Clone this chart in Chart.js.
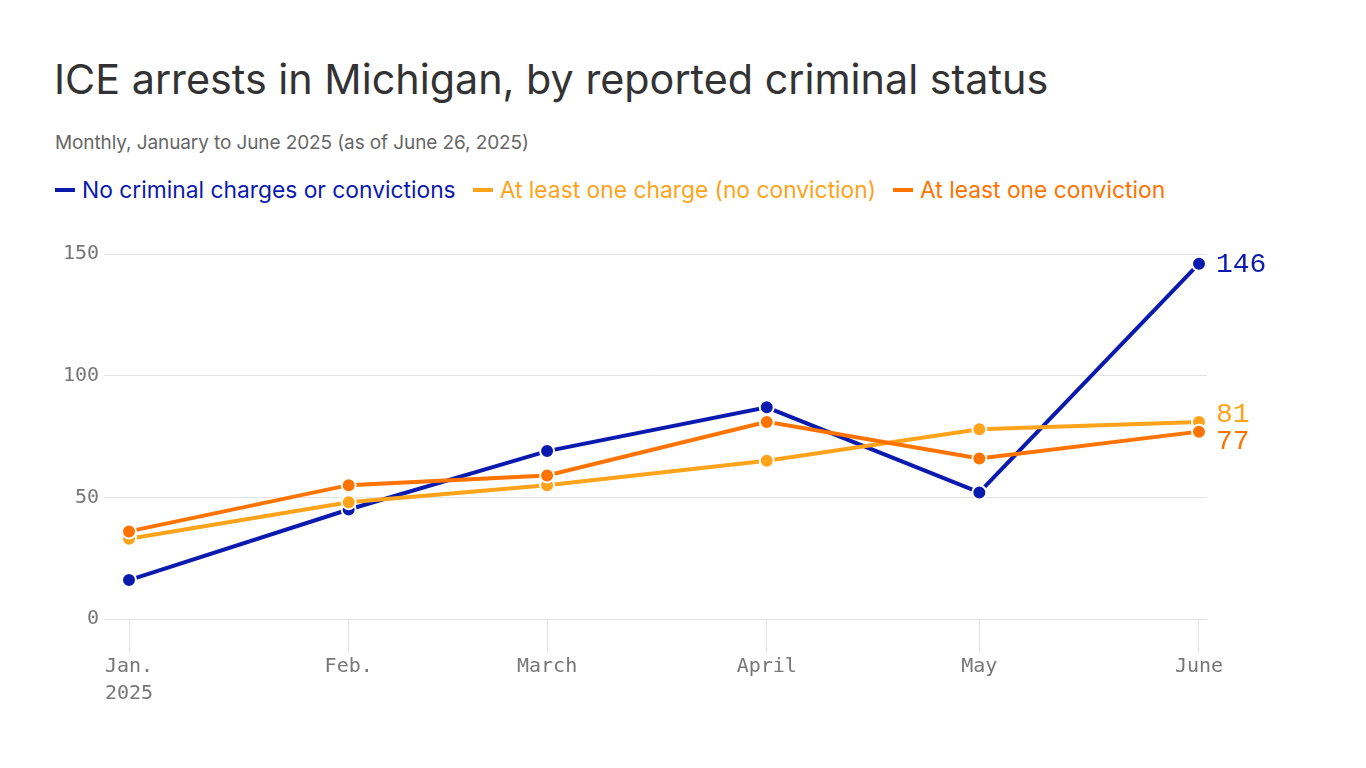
<!DOCTYPE html>
<html><head><meta charset="utf-8">
<script src="https://cdn.jsdelivr.net/npm/chart.js@4/dist/chart.umd.min.js"></script>
<style>
html,body{margin:0;padding:0;background:#fff;width:1366px;height:768px;overflow:hidden;}
#wrap{position:relative;width:1366px;height:768px;}
canvas{position:absolute;left:0;top:0;}
.title{position:absolute;left:54px;top:54px;font-family:Inter,"Noto Sans",sans-serif;font-size:41.3px;color:#333;letter-spacing:0;white-space:nowrap;}
.sub{position:absolute;left:55px;top:131px;font-family:Inter,"Noto Sans",sans-serif;font-size:19px;color:#666;letter-spacing:-0.1px;white-space:nowrap;}
.legend{position:absolute;left:55px;top:176px;font-family:Inter,"Noto Sans",sans-serif;font-size:22.8px;white-space:nowrap;display:flex;gap:17px;letter-spacing:0;}
.legend span{display:inline-flex;align-items:center;}
.legend i{display:inline-block;width:20px;height:4px;margin-right:7px;}
</style></head><body>
<div id="wrap">
<div class="title">ICE arrests in Michigan, by reported criminal status</div>
<div class="sub">Monthly, January to June 2025 (as of June 26, 2025)</div>
<div class="legend" id="legend"></div>
<canvas id="c" width="1366" height="768"></canvas>
</div>
<script>
// Day offsets from Jan 1, 2025 for the first of each month
const monthDays = [0, 31, 59, 90, 120, 151];
const monthLabels = [["Jan.", "2025"], "Feb.", "March", "April", "May", "June"];
const seriesNames = ["No criminal charges or convictions", "At least one charge (no conviction)", "At least one conviction"];
const noCriminal = [16, 45, 69, 87, 52, 146];
const chargeOnly = [33, 48, 55, 65, 78, 81];
const conviction = [36, 55, 59, 81, 66, 77];
const yTicks = [0, 50, 100, 150];
const colors = ["#0b1aae", "#ffa31a", "#ff7300"];

const seriesValues = [noCriminal, chargeOnly, conviction];
const legend = document.getElementById('legend');
seriesNames.forEach((n, i) => {
  const s = document.createElement('span');
  s.style.color = colors[i];
  s.innerHTML = '<i style="background:' + colors[i] + '"></i>' + n;
  legend.appendChild(s);
});

const endLabels = {
  id: 'endLabels',
  afterDatasetsDraw(chart) {
    const ctx = chart.ctx;
    const items = chart.data.datasets.map((ds, i) => {
      const meta = chart.getDatasetMeta(i);
      const pt = meta.data[meta.data.length - 1];
      return {x: pt.x, y: pt.y, text: String(ds.data[ds.data.length - 1].y), color: ds.borderColor};
    }).sort((a, b) => a.y - b.y);
    const gap = 27;
    for (let k = 0; k < 3; k++) {
      for (let i = 1; i < items.length; i++) {
        const d = items[i].y - items[i - 1].y;
        if (d < gap) {
          const m = (items[i].y + items[i - 1].y) / 2;
          items[i - 1].y = m - gap / 2;
          items[i].y = m + gap / 2;
        }
      }
    }
    ctx.save();
    ctx.font = '28px "Liberation Mono", monospace';
    ctx.textBaseline = 'middle';
    ctx.textAlign = 'left';
    items.forEach(it => { ctx.fillStyle = it.color; ctx.fillText(it.text, it.x + 17, it.y + 1); });
    ctx.restore();
  }
};

new Chart(document.getElementById('c'), {
  type: 'line',
  data: {
    datasets: seriesNames.map((n, i) => ({
      label: n,
      data: monthDays.map((d, j) => ({x: d, y: seriesValues[i][j]})),
      borderColor: colors[i],
      backgroundColor: colors[i],
      pointBackgroundColor: colors[i],
      pointBorderColor: '#fff',
      pointBorderWidth: 2,
      pointRadius: 7,
      borderWidth: 4,
      tension: 0
    })).reverse()
  },
  options: {
    responsive: false,
    animation: false,
    layout: {padding: {left: 0, top: 254, right: 159, bottom: 0}},
    plugins: {legend: {display: false}, title: {display: false}, tooltip: {enabled: false}},
    scales: {
      x: {
        type: 'linear',
        min: -3.53, max: 152.13,
        afterBuildTicks: s => { s.ticks = monthDays.map(v => ({value: v})); },
        afterFit: s => { s.height = 149; },
        grid: {drawOnChartArea: false, drawTicks: true, tickLength: 34, color: '#e2e2e2', lineWidth: 1},
        border: {display: false},
        ticks: {
          autoSkip: false, maxRotation: 0, padding: 0,
          color: '#777',
          font: {family: '"DejaVu Sans Mono", monospace', size: 20, lineHeight: 1.35},
          callback: (v) => monthLabels[monthDays.indexOf(v)]
        }
      },
      y: {
        min: 0, max: 150,
        afterBuildTicks: s => { s.ticks = yTicks.map(v => ({value: v})); },
        afterFit: s => { s.width = 104; },
        grid: {color: '#e2e2e2', drawTicks: false, lineWidth: 1},
        border: {display: false},
        ticks: {padding: 5, color: '#777', font: {family: '"DejaVu Sans Mono", monospace', size: 20}}
      }
    }
  },
  plugins: [endLabels]
});
</script>
</body></html>
